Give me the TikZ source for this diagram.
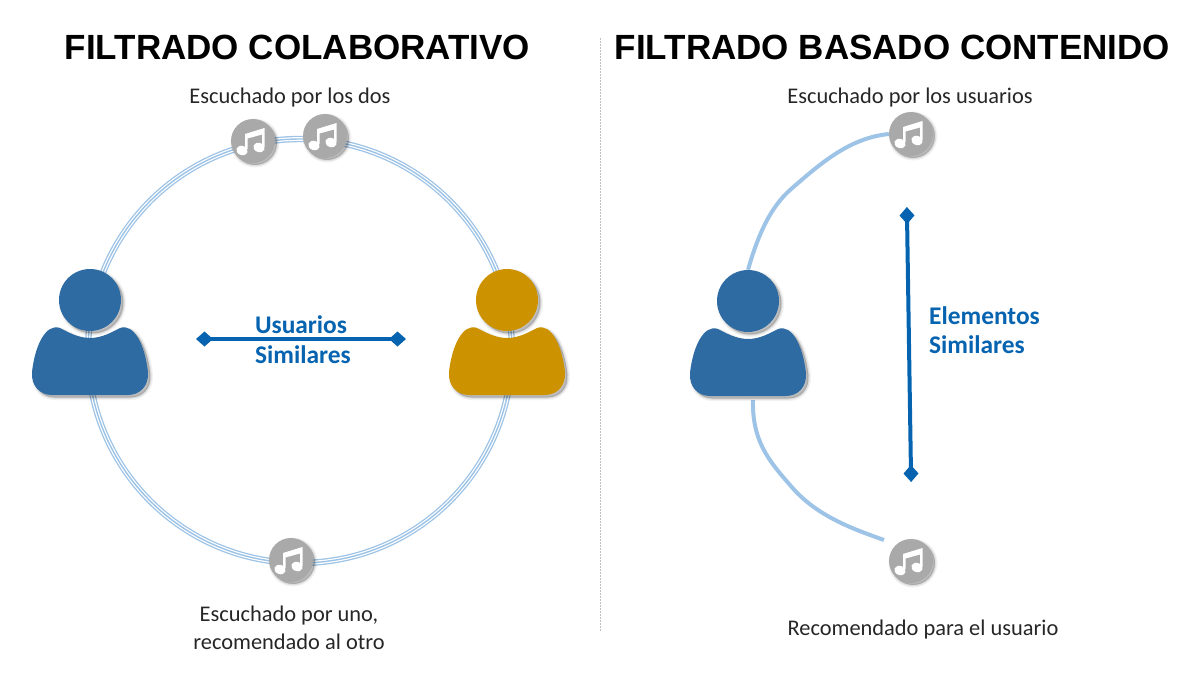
\documentclass[tikz,border=0pt]{standalone}
\usepackage{fontspec}
\setmainfont{Carlito}
\newfontfamily\titlefont[Scale=1]{Liberation Sans}
\usetikzlibrary{arrows.meta,backgrounds}
\definecolor{userblue}{HTML}{2E6BA3}
\definecolor{usergold}{HTML}{CC9200}
\definecolor{icongrey}{HTML}{A9A9A9}
\definecolor{linkblue}{HTML}{9DC3E6}
\definecolor{accent}{HTML}{0563B0}
\definecolor{labeltext}{HTML}{262626}
\definecolor{divider}{HTML}{BFBFBF}
\newcommand{\bustpath}{(0,38) .. controls (-12,38) and (-22,32) .. (-30,28) .. controls (-44,23) and (-55,45) .. (-58,72) .. controls (-59,86) and (-50,95) .. (-38,95) -- (38,95) .. controls (50,95) and (59,86) .. (58,72) .. controls (55,45) and (44,23) .. (30,28) .. controls (22,32) and (12,38) .. (0,38) -- cycle}
\tikzset{
  x=1pt,y=-1pt,
  titletext/.style={font=\titlefont\bfseries\fontsize{35}{38}\selectfont,text=black,inner sep=0pt},
  captext/.style={font=\fontsize{22.4}{26}\selectfont,text=labeltext,inner sep=0pt},
  simtext/.style={font=\bfseries\fontsize{25.4}{29}\selectfont,text=accent,inner sep=0pt},
  shade1/.style={fill=black,draw=black,opacity=.05,line width=5pt},
  shade2/.style={fill=black,draw=black,opacity=.08,line width=2.5pt},
  shade3/.style={fill=black,opacity=.12},
  simline/.style={draw=accent,line width=4pt,{Diamond[length=17pt,width=15pt]}-{Diamond[length=17pt,width=15pt]},shorten <=-8pt,shorten >=-8pt},
  softlink/.style={draw=linkblue,line width=4pt},
  user/.pic={
    \foreach \s in {shade1,shade2,shade3}{
      \path[\s,shift={(2.5,2.5)}] (0,0) circle[radius=31pt];
      \path[\s,shift={(2.5,2.5)}] \bustpath;
    }
    \fill[pic actions] \bustpath;
    \node[circle,fill,pic actions,minimum size=62pt,inner sep=0pt] (-head) at (0,0) {};
  },
  musicicon/.pic={
    \foreach \s in {shade1,shade2,shade3}{
      \path[\s,shift={(2,2)}] (0,0) circle[radius=22pt];
    }
    \node[circle,fill=icongrey,minimum size=44pt,inner sep=0pt] (-disc) at (0,0) {};
    \fill[white] (-8,8) -- (-8,-7) -- (11.5,-13) -- (11.5,6) -- (9,6) -- (9,-6.5) -- (-5.5,-2.5) -- (-5.5,8) -- cycle;
    \fill[white,rotate around={-20:(-11,9.5)}] (-11,9.5) ellipse[x radius=5.8pt,y radius=4.6pt];
    \fill[white,rotate around={-20:(6,6.5)}] (6,6.5) ellipse[x radius=5.8pt,y radius=4.6pt];
  }
}
\begin{document}
\begin{tikzpicture}
\useasboundingbox (0,0) rectangle (1200,675);

\node[titletext] (titleL) at (297.5,47) {FILTRADO COLABORATIVO};
\node[titletext] (titleR) at (892.5,47) {FILTRADO BASADO CONTENIDO};
\coordinate (divTop) at (600.5,38);
\coordinate (divBot) at (600.5,632);
\draw[divider,line width=.7pt,dash pattern=on 1.5pt off 1.5pt] (divTop) -- (divBot);

\node[captext] (capA) at (290,98) {Escuchado por los dos};
\node[captext] (capB) at (910,98) {Escuchado por los usuarios};
\node[captext] (capC) at (289,616) {Escuchado por uno,};
\node[captext] (capD) at (289,642) {recomendado al otro};
\node[captext] (capE) at (923,630) {Recomendado para el usuario};

\coordinate (ringc) at (300,351);
\draw[linkblue,line width=6.4pt] (ringc) circle[radius=212pt];
\draw[white,line width=3.8pt] (ringc) circle[radius=212pt];
\draw[linkblue,line width=1.4pt] (ringc) circle[radius=212pt];

\pic[fill=userblue] (uL) at (90,300) {user};
\pic[fill=usergold] (uM) at (507,300) {user};
\pic[fill=userblue] (uR) at (748,301) {user};

\pic (n1) at (253,141) {musicicon};
\pic (n2) at (325,136) {musicicon};
\pic (n3) at (291,560) {musicicon};
\pic (n4) at (911,134) {musicicon};
\pic (n5) at (911,561) {musicicon};

\coordinate (lowStart) at (753,400);
\coordinate (lowEnd) at (884,540);
\begin{scope}[on background layer]
  \draw[softlink] (uR-head.north) .. controls (758,235) and (770,208) .. (790,190) .. controls (822,162) and (850,138) .. (n4-disc.west);
  \draw[softlink] (lowStart) .. controls (752,440) and (768,460) .. (790,485) .. controls (815,515) and (850,528) .. (lowEnd);
\end{scope}

\coordinate (simA) at (204,339);
\coordinate (simB) at (398,339);
\draw[simline] (simA) -- (simB);
\coordinate (simC) at (907,215);
\coordinate (simD) at (911,474);
\draw[simline] (simC) -- (simD);

\node[simtext] (s1) at (301,325) {Usuarios};
\node[simtext] (s2) at (303,355) {Similares};
\node[simtext,anchor=west] (s3) at (929,316) {Elementos};
\node[simtext,anchor=west] (s4) at (929,345) {Similares};
\end{tikzpicture}
\end{document}
